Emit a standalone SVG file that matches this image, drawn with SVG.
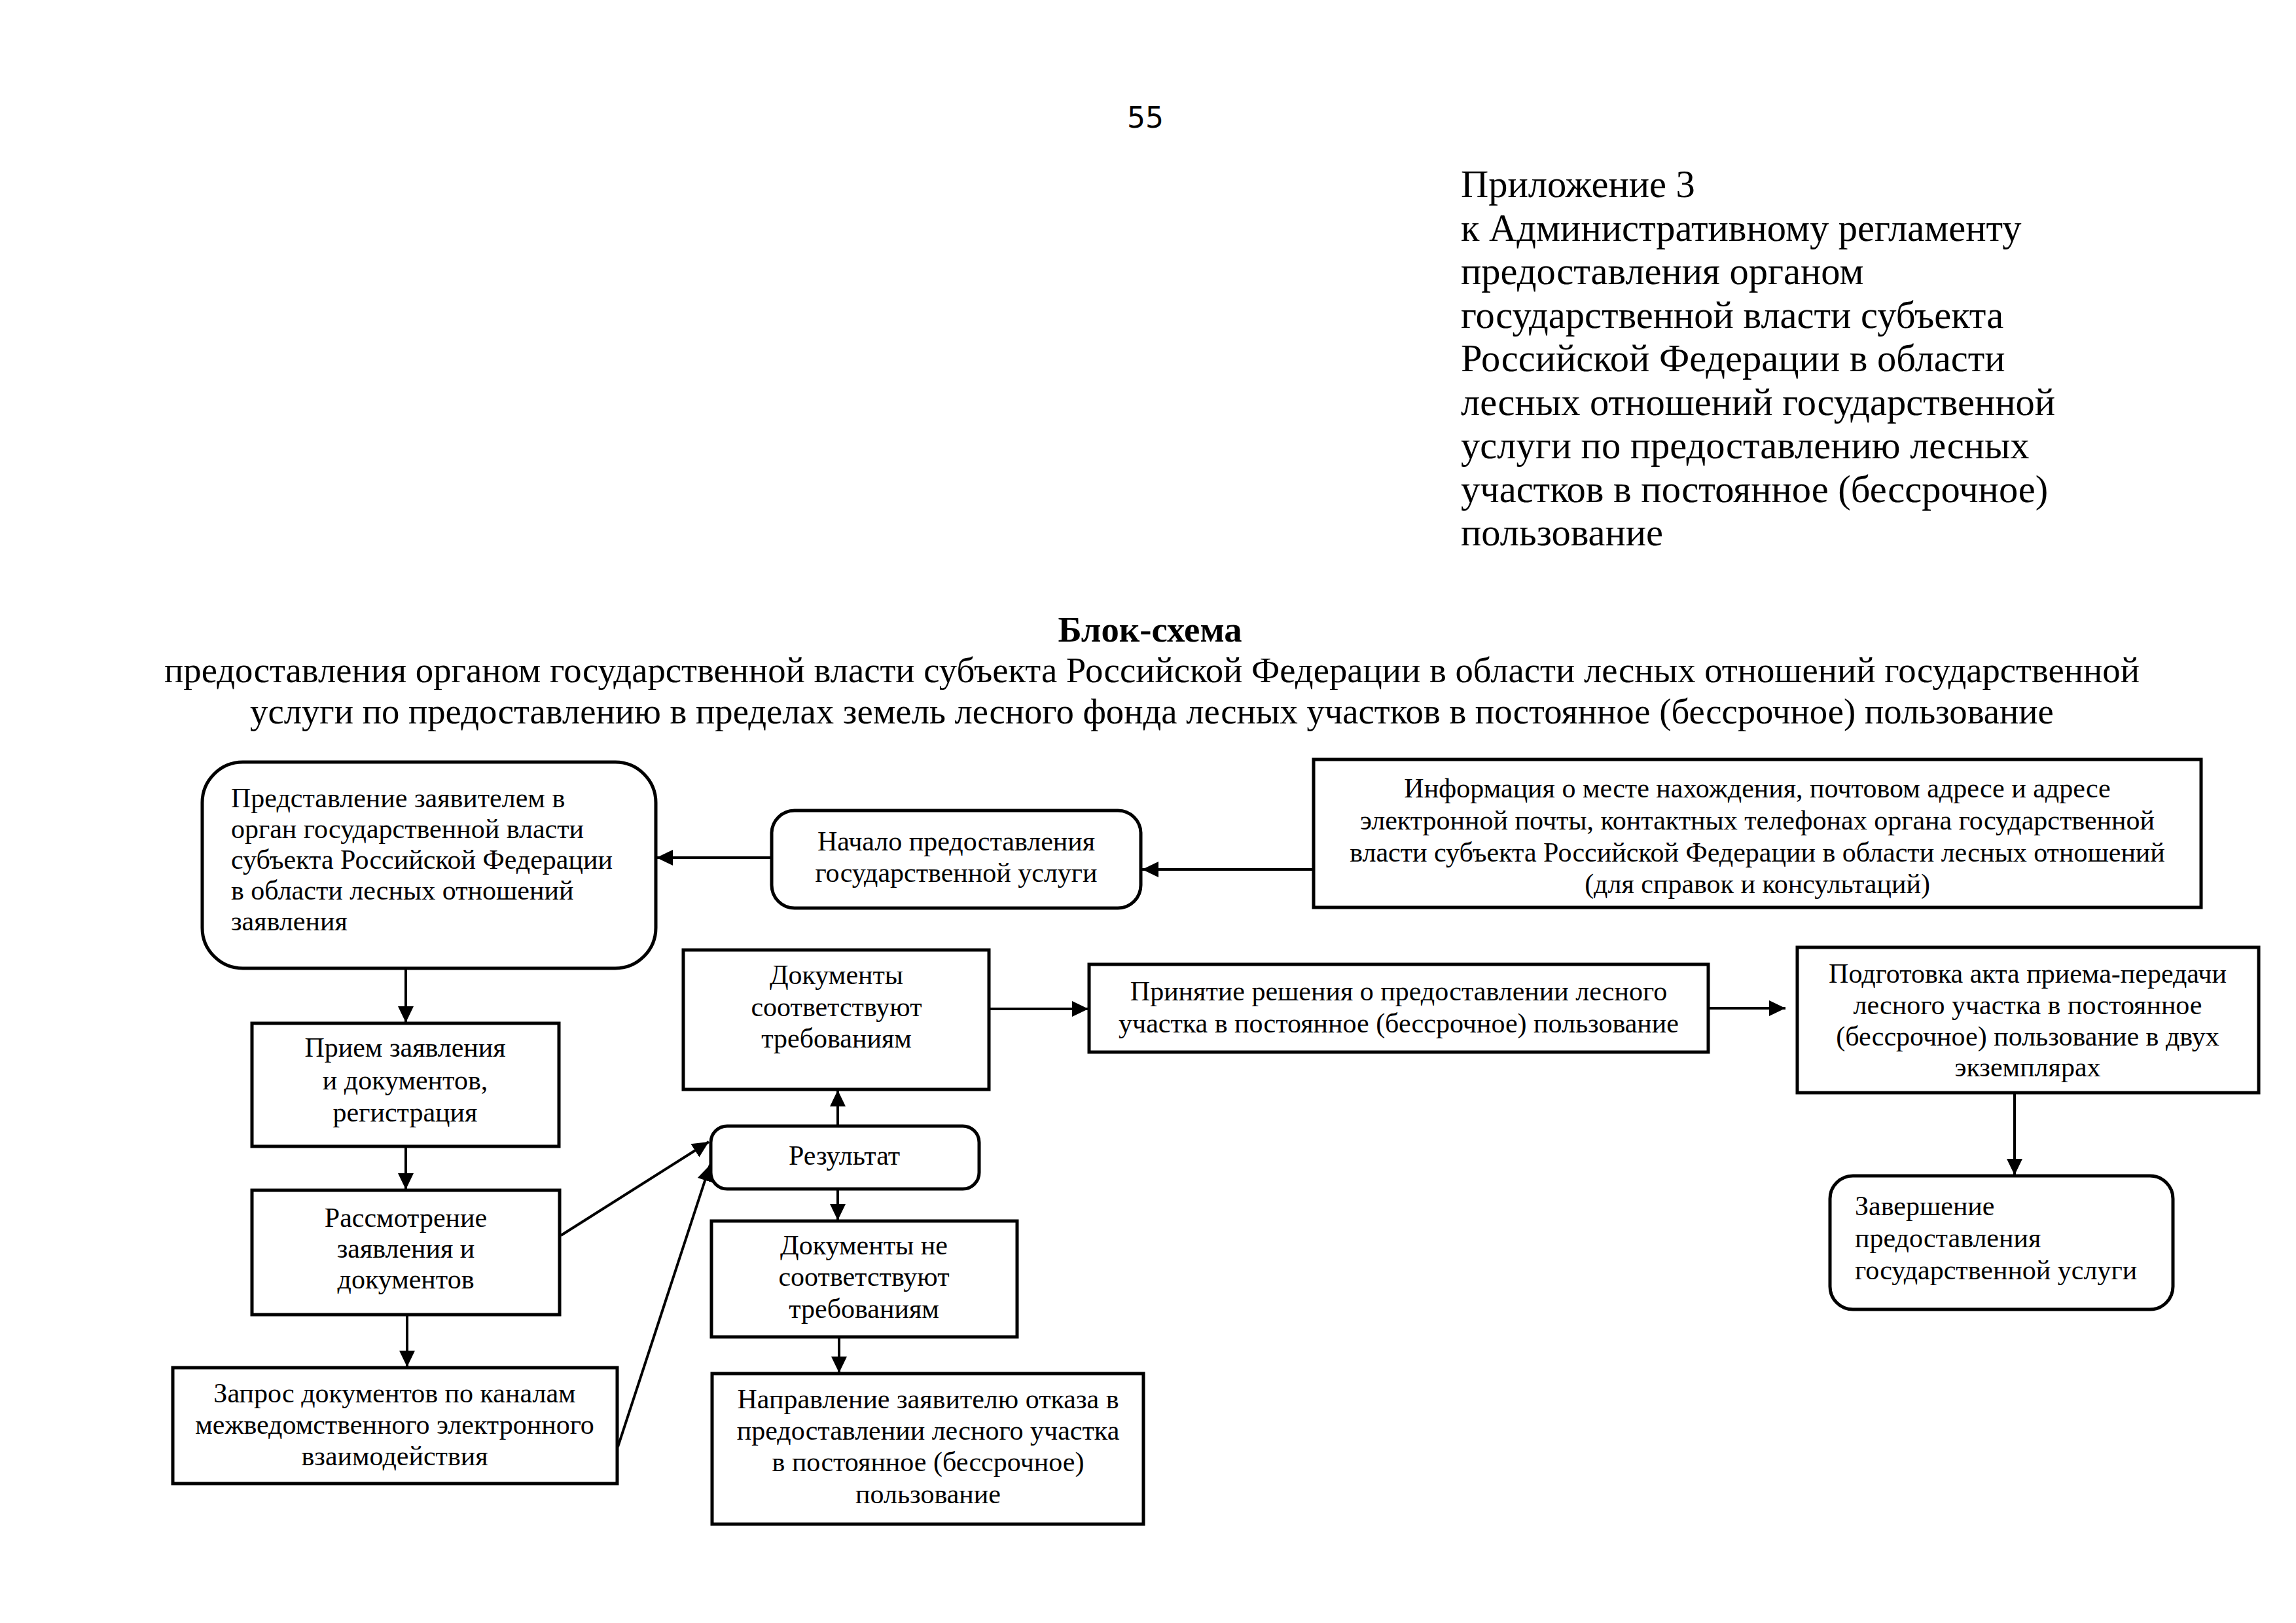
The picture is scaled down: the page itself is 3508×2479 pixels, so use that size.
<svg xmlns="http://www.w3.org/2000/svg" width="3508" height="2479" viewBox="0 0 3508 2479">
<style>
text{font-family:"Liberation Serif","Times New Roman",serif;fill:#000}
.hd{font-size:58.5px}
.ti{font-size:54.7px;text-anchor:middle}
.bx{font-size:42px}
.c{text-anchor:middle}
.box{fill:#fff;stroke:#000;stroke-width:5}
.ln{fill:none;stroke:#000;stroke-width:4;marker-end:url(#ah)}
</style>
<defs>
<marker id="ah" markerUnits="userSpaceOnUse" markerWidth="26" markerHeight="26" viewBox="0 0 26 26" refX="25" refY="13" orient="auto">
<path d="M0,1 L25,13 L0,25 z" fill="#000"/>
</marker>
</defs>
<rect width="3508" height="2479" fill="#fff"/>
<text x="1750" y="195" style="font-family:'DejaVu Sans','Liberation Sans',sans-serif;font-size:44px" text-anchor="middle">55</text>
<g id="header">
<text x="2232" y="301" class="hd">Приложение 3</text>
<text x="2232" y="368" class="hd">к Административному регламенту</text>
<text x="2232" y="434" class="hd">предоставления органом</text>
<text x="2232" y="501" class="hd">государственной власти субъекта</text>
<text x="2232" y="567" class="hd">Российской Федерации в области</text>
<text x="2232" y="634" class="hd">лесных отношений государственной</text>
<text x="2232" y="700" class="hd">услуги по предоставлению лесных</text>
<text x="2232" y="767" class="hd">участков в постоянное (бессрочное)</text>
<text x="2232" y="833" class="hd">пользование</text>
</g>
<g id="title">
<text x="1757" y="980" class="ti" font-weight="bold">Блок-схема</text>
<text x="1760" y="1042" class="ti">предоставления органом государственной власти субъекта Российской Федерации в области лесных отношений государственной</text>
<text x="1760" y="1105" class="ti">услуги по предоставлению в пределах земель лесного фонда лесных участков в постоянное (бессрочное) пользование</text>
</g>
<g id="connectors">
<line class="ln" x1="2007" y1="1328" x2="1745" y2="1328"/>
<line class="ln" x1="1179" y1="1310" x2="1003" y2="1310"/>
<line class="ln" x1="620" y1="1479" x2="620" y2="1562"/>
<line class="ln" x1="620" y1="1752" x2="620" y2="1817"/>
<line class="ln" x1="622" y1="2009" x2="622" y2="2088"/>
<line class="ln" x1="857" y1="1887" x2="1083" y2="1744"/>
<line class="ln" x1="944" y1="2210" x2="1085" y2="1779"/>
<line class="ln" x1="1280" y1="1720" x2="1280" y2="1665"/>
<line class="ln" x1="1280" y1="1817" x2="1280" y2="1864"/>
<line class="ln" x1="1282" y1="2043" x2="1282" y2="2097"/>
<line class="ln" x1="1512" y1="1541" x2="1663" y2="1541"/>
<line class="ln" x1="2611" y1="1540" x2="2728" y2="1540"/>
<line class="ln" x1="3078" y1="1670" x2="3078" y2="1795"/>
</g>
<g id="n1">
<rect class="box" x="309" y="1164" width="693" height="315" rx="62"/>
<text class="bx" x="353" y="1233">Представление заявителем в</text>
<text class="bx" x="353" y="1280">орган государственной власти</text>
<text class="bx" x="353" y="1327">субъекта Российской Федерации</text>
<text class="bx" x="353" y="1374">в области лесных отношений</text>
<text class="bx" x="353" y="1421">заявления</text>
</g>
<g id="n2">
<rect class="box" x="1179" y="1238" width="564" height="149" rx="35"/>
<text class="bx c" x="1461" y="1299">Начало предоставления</text>
<text class="bx c" x="1461" y="1347">государственной услуги</text>
</g>
<g id="n3">
<rect class="box" x="2007" y="1160" width="1356" height="226"/>
<text class="bx c" x="2685" y="1218">Информация о месте нахождения, почтовом адресе и адресе</text>
<text class="bx c" x="2685" y="1267">электронной почты, контактных телефонах органа государственной</text>
<text class="bx c" x="2685" y="1316">власти субъекта Российской Федерации в области лесных отношений</text>
<text class="bx c" x="2685" y="1364">(для справок и консультаций)</text>
</g>
<g id="n4">
<rect class="box" x="385" y="1563" width="469" height="188"/>
<text class="bx c" x="619" y="1614">Прием заявления</text>
<text class="bx c" x="619" y="1664">и документов,</text>
<text class="bx c" x="619" y="1713">регистрация</text>
</g>
<g id="n5">
<rect class="box" x="385" y="1818" width="470" height="190"/>
<text class="bx c" x="620" y="1874">Рассмотрение</text>
<text class="bx c" x="620" y="1921">заявления и</text>
<text class="bx c" x="620" y="1968">документов</text>
</g>
<g id="n6">
<rect class="box" x="264" y="2089" width="679" height="177"/>
<text class="bx c" x="603" y="2142">Запрос документов по каналам</text>
<text class="bx c" x="603" y="2190">межведомственного электронного</text>
<text class="bx c" x="603" y="2238">взаимодействия</text>
</g>
<g id="n7">
<rect class="box" x="1044" y="1451" width="467" height="213"/>
<text class="bx c" x="1278" y="1503">Документы</text>
<text class="bx c" x="1278" y="1552">соответствуют</text>
<text class="bx c" x="1278" y="1600">требованиям</text>
</g>
<g id="n8">
<rect class="box" x="1086" y="1720" width="410" height="96" rx="25"/>
<text class="bx c" x="1290" y="1779">Результат</text>
</g>
<g id="n9">
<rect class="box" x="1087" y="1865" width="467" height="177"/>
<text class="bx c" x="1320" y="1916">Документы не</text>
<text class="bx c" x="1320" y="1964">соответствуют</text>
<text class="bx c" x="1320" y="2013">требованиям</text>
</g>
<g id="n10">
<rect class="box" x="1088" y="2098" width="659" height="230"/>
<text class="bx c" x="1418" y="2151">Направление заявителю отказа в</text>
<text class="bx c" x="1418" y="2199">предоставлении лесного участка</text>
<text class="bx c" x="1418" y="2247">в постоянное (бессрочное)</text>
<text class="bx c" x="1418" y="2296">пользование</text>
</g>
<g id="n11">
<rect class="box" x="1664" y="1473" width="946" height="134"/>
<text class="bx c" x="2137" y="1528">Принятие решения о предоставлении лесного</text>
<text class="bx c" x="2137" y="1577">участка в постоянное (бессрочное) пользование</text>
</g>
<g id="n12">
<rect class="box" x="2746" y="1447" width="705" height="222"/>
<text class="bx c" x="3098" y="1501">Подготовка акта приема-передачи</text>
<text class="bx c" x="3098" y="1549">лесного участка в постоянное</text>
<text class="bx c" x="3098" y="1597">(бессрочное) пользование в двух</text>
<text class="bx c" x="3098" y="1644">экземплярах</text>
</g>
<g id="n13">
<rect class="box" x="2796" y="1796" width="524" height="204" rx="35"/>
<text class="bx" x="2834" y="1856">Завершение</text>
<text class="bx" x="2834" y="1905">предоставления</text>
<text class="bx" x="2834" y="1954">государственной услуги</text>
</g>
</svg>
